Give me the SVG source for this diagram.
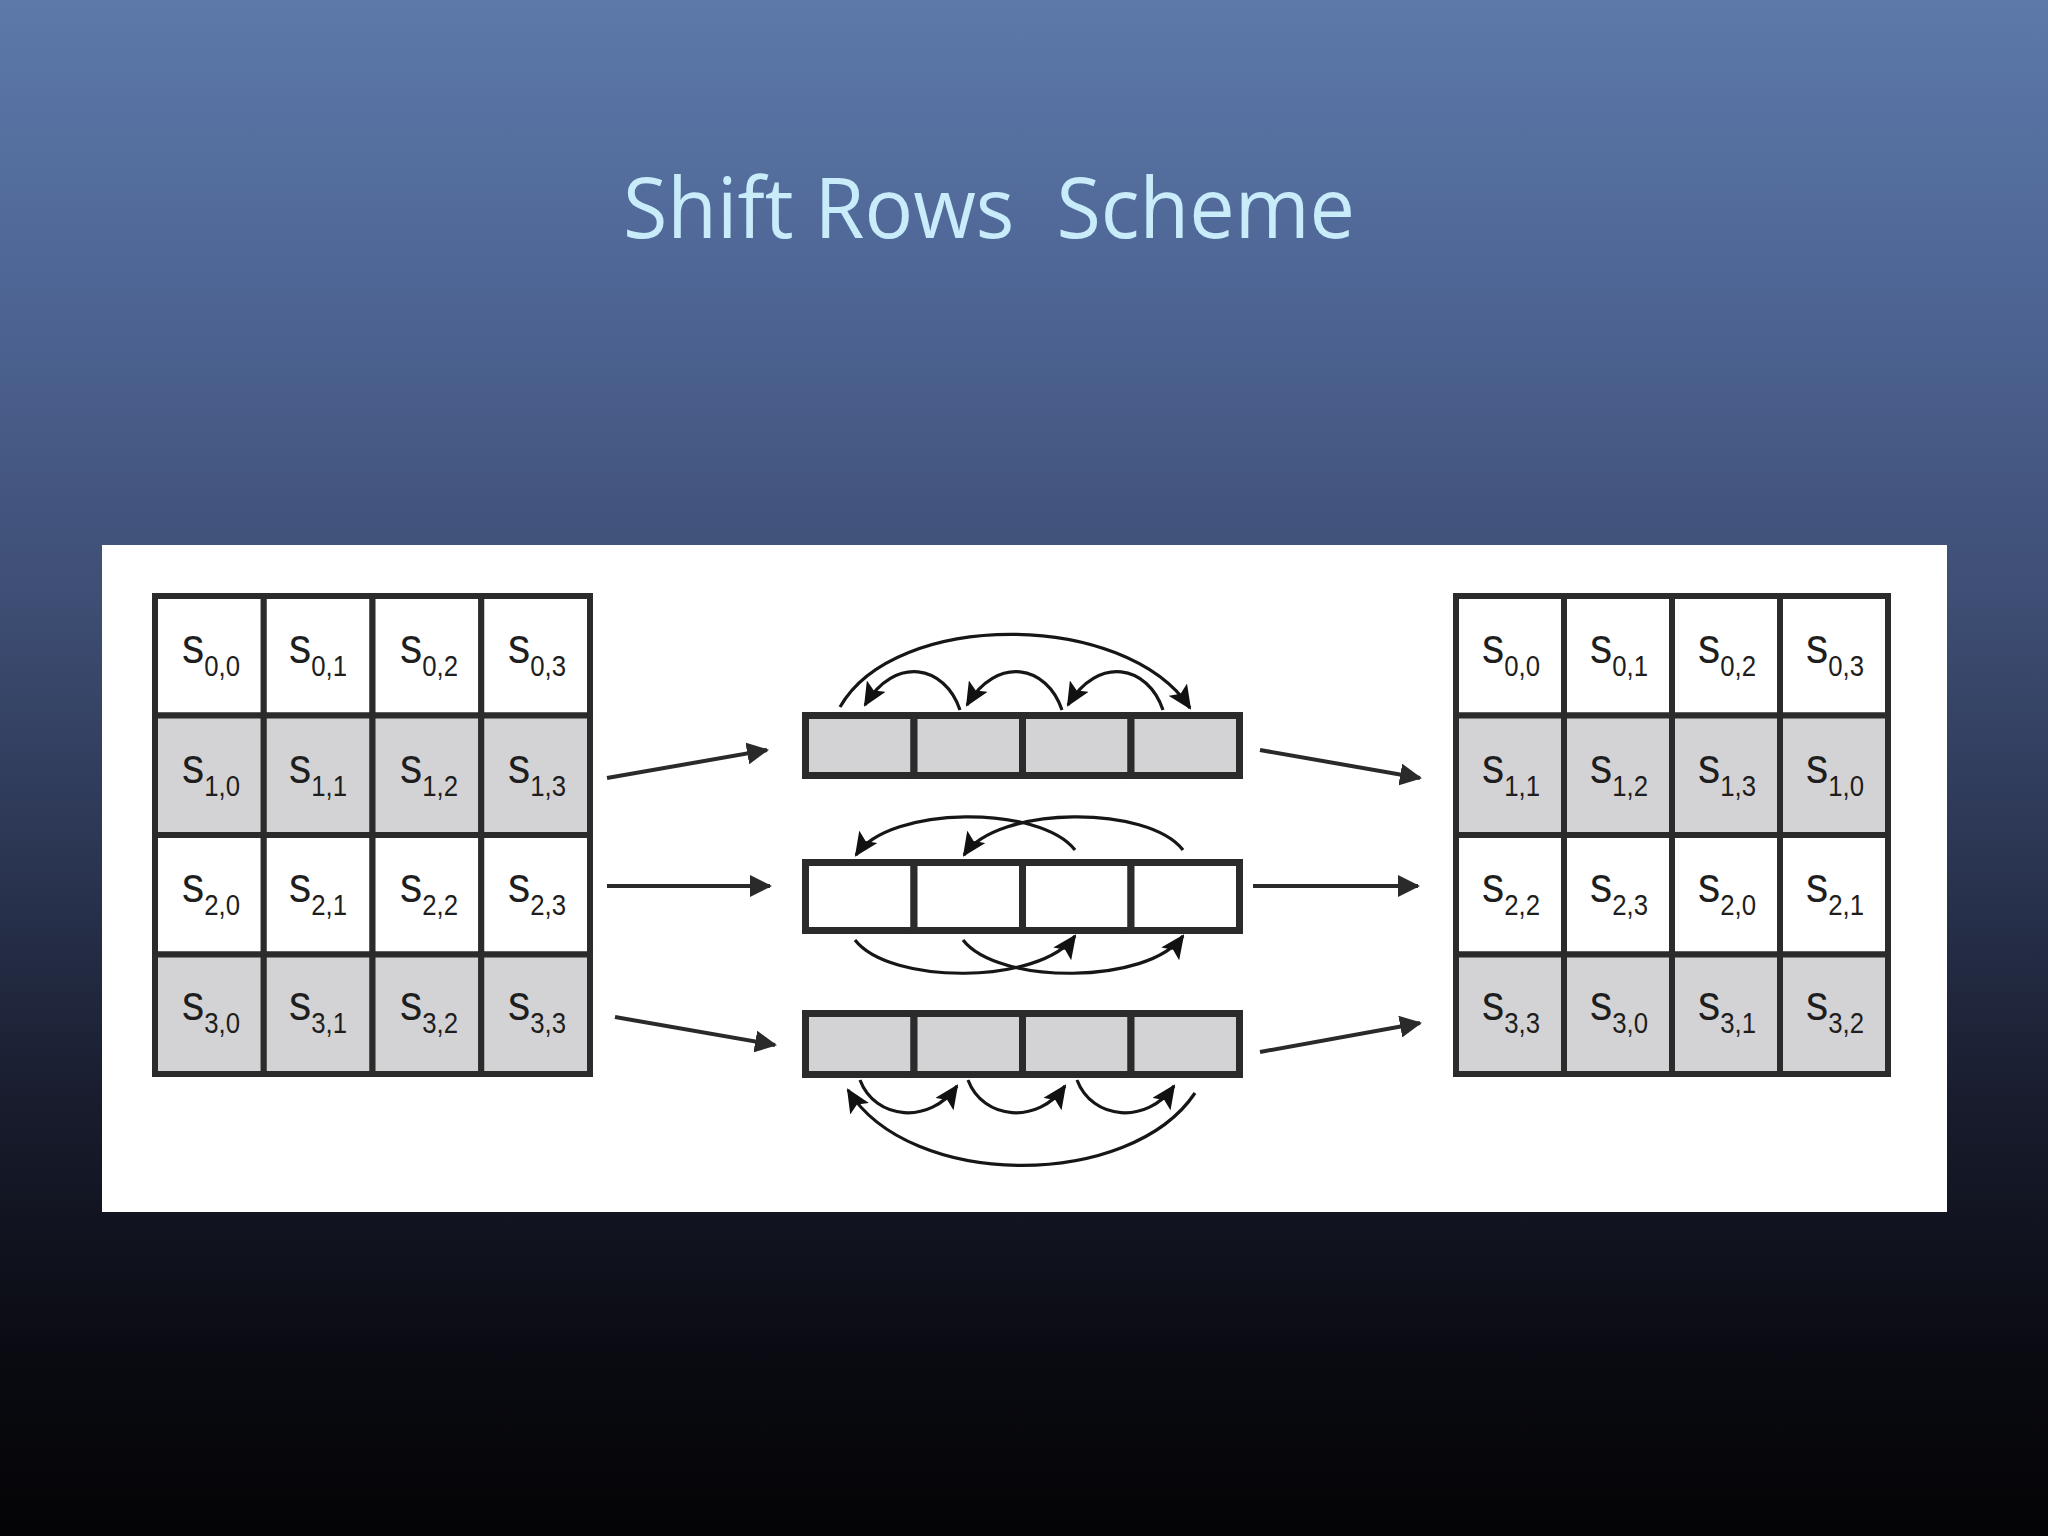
<svg xmlns="http://www.w3.org/2000/svg" width="2048" height="1536" viewBox="0 0 2048 1536">
  <defs>
    <linearGradient id="bg" x1="0" y1="0" x2="0" y2="1">
      <stop offset="0" stop-color="#5c79aa"/>
      <stop offset="0.2" stop-color="#4d6493"/>
      <stop offset="0.38" stop-color="#3f4f76"/>
      <stop offset="0.55" stop-color="#2c3754"/>
      <stop offset="0.72" stop-color="#181c2d"/>
      <stop offset="0.88" stop-color="#0a0b12"/>
      <stop offset="1" stop-color="#040406"/>
    </linearGradient>
    <marker id="headBig" markerUnits="userSpaceOnUse" markerWidth="22" markerHeight="22" refX="20" refY="11" orient="auto">
      <path d="M0,0 L22,11 L0,22 z" fill="#2a2a2a"/>
    </marker>
    <marker id="headSmall" markerUnits="userSpaceOnUse" markerWidth="24" markerHeight="22" refX="22" refY="11" orient="auto">
      <path d="M0,0 L24,11 L0,22 L5,11 z" fill="#111"/>
    </marker>
    <style>
      .cw { fill: #ffffff; stroke: #2b2b2b; stroke-width: 6; }
      .cg { fill: #d3d3d5; stroke: #2b2b2b; stroke-width: 6; }
      .bw { fill: #ffffff; stroke: #2b2b2b; stroke-width: 7; }
      .bg { fill: #d3d3d5; stroke: #2b2b2b; stroke-width: 7; }
      .lbl { font-family: "Liberation Sans", Arial, sans-serif; font-size: 50px; fill: #1e1e1e; }
      .sub { font-size: 29px; }
      .straight { fill: none; stroke: #2a2a2a; stroke-width: 4; marker-end: url(#headBig); }
      .curve { fill: none; stroke: #161616; stroke-width: 3.2; marker-end: url(#headSmall); }
    </style>
  </defs>

  <rect x="0" y="0" width="2048" height="1536" fill="url(#bg)"/>

  <text x="989" y="238" text-anchor="middle" font-family="'Open Sans', 'Liberation Sans', sans-serif" font-size="85" fill="#c9ecfb" textLength="732" lengthAdjust="spacingAndGlyphs" style="white-space:pre">Shift Rows  Scheme</text>

  <rect x="102" y="545" width="1845" height="667" fill="#ffffff"/>

  <!-- Left state grid -->
  <g id="left-grid">
    <rect class="cw" x="155" y="596" width="108.75" height="119.5"/>
    <rect class="cw" x="263.75" y="596" width="108.75" height="119.5"/>
    <rect class="cw" x="372.5" y="596" width="108.75" height="119.5"/>
    <rect class="cw" x="481.25" y="596" width="108.75" height="119.5"/>
    <rect class="cg" x="155" y="715.5" width="108.75" height="119.5"/>
    <rect class="cg" x="263.75" y="715.5" width="108.75" height="119.5"/>
    <rect class="cg" x="372.5" y="715.5" width="108.75" height="119.5"/>
    <rect class="cg" x="481.25" y="715.5" width="108.75" height="119.5"/>
    <rect class="cw" x="155" y="835" width="108.75" height="119.5"/>
    <rect class="cw" x="263.75" y="835" width="108.75" height="119.5"/>
    <rect class="cw" x="372.5" y="835" width="108.75" height="119.5"/>
    <rect class="cw" x="481.25" y="835" width="108.75" height="119.5"/>
    <rect class="cg" x="155" y="954.5" width="108.75" height="119.5"/>
    <rect class="cg" x="263.75" y="954.5" width="108.75" height="119.5"/>
    <rect class="cg" x="372.5" y="954.5" width="108.75" height="119.5"/>
    <rect class="cg" x="481.25" y="954.5" width="108.75" height="119.5"/>

    <text class="lbl" x="182" y="663" textLength="58" lengthAdjust="spacingAndGlyphs">s<tspan class="sub" dy="13">0,0</tspan></text>
    <text class="lbl" x="289" y="663" textLength="58" lengthAdjust="spacingAndGlyphs">s<tspan class="sub" dy="13">0,1</tspan></text>
    <text class="lbl" x="400" y="663" textLength="58" lengthAdjust="spacingAndGlyphs">s<tspan class="sub" dy="13">0,2</tspan></text>
    <text class="lbl" x="508" y="663" textLength="58" lengthAdjust="spacingAndGlyphs">s<tspan class="sub" dy="13">0,3</tspan></text>
    <text class="lbl" x="182" y="783" textLength="58" lengthAdjust="spacingAndGlyphs">s<tspan class="sub" dy="13">1,0</tspan></text>
    <text class="lbl" x="289" y="783" textLength="58" lengthAdjust="spacingAndGlyphs">s<tspan class="sub" dy="13">1,1</tspan></text>
    <text class="lbl" x="400" y="783" textLength="58" lengthAdjust="spacingAndGlyphs">s<tspan class="sub" dy="13">1,2</tspan></text>
    <text class="lbl" x="508" y="783" textLength="58" lengthAdjust="spacingAndGlyphs">s<tspan class="sub" dy="13">1,3</tspan></text>
    <text class="lbl" x="182" y="902" textLength="58" lengthAdjust="spacingAndGlyphs">s<tspan class="sub" dy="13">2,0</tspan></text>
    <text class="lbl" x="289" y="902" textLength="58" lengthAdjust="spacingAndGlyphs">s<tspan class="sub" dy="13">2,1</tspan></text>
    <text class="lbl" x="400" y="902" textLength="58" lengthAdjust="spacingAndGlyphs">s<tspan class="sub" dy="13">2,2</tspan></text>
    <text class="lbl" x="508" y="902" textLength="58" lengthAdjust="spacingAndGlyphs">s<tspan class="sub" dy="13">2,3</tspan></text>
    <text class="lbl" x="182" y="1020" textLength="58" lengthAdjust="spacingAndGlyphs">s<tspan class="sub" dy="13">3,0</tspan></text>
    <text class="lbl" x="289" y="1020" textLength="58" lengthAdjust="spacingAndGlyphs">s<tspan class="sub" dy="13">3,1</tspan></text>
    <text class="lbl" x="400" y="1020" textLength="58" lengthAdjust="spacingAndGlyphs">s<tspan class="sub" dy="13">3,2</tspan></text>
    <text class="lbl" x="508" y="1020" textLength="58" lengthAdjust="spacingAndGlyphs">s<tspan class="sub" dy="13">3,3</tspan></text>
  </g>

  <!-- Middle row bars -->
  <g id="bar-row1">
    <rect class="bg" x="805.5" y="715.5" width="108.5" height="60"/>
    <rect class="bg" x="914" y="715.5" width="108.5" height="60"/>
    <rect class="bg" x="1022.5" y="715.5" width="108.5" height="60"/>
    <rect class="bg" x="1131" y="715.5" width="108.5" height="60"/>
  </g>
  <g id="bar-row2">
    <rect class="bw" x="805.5" y="862.5" width="108.5" height="68"/>
    <rect class="bw" x="914" y="862.5" width="108.5" height="68"/>
    <rect class="bw" x="1022.5" y="862.5" width="108.5" height="68"/>
    <rect class="bw" x="1131" y="862.5" width="108.5" height="68"/>
  </g>
  <g id="bar-row3">
    <rect class="bg" x="805.5" y="1013.5" width="108.5" height="61"/>
    <rect class="bg" x="914" y="1013.5" width="108.5" height="61"/>
    <rect class="bg" x="1022.5" y="1013.5" width="108.5" height="61"/>
    <rect class="bg" x="1131" y="1013.5" width="108.5" height="61"/>
  </g>

  <!-- Right state grid -->
  <g id="right-grid">
    <rect class="cw" x="1456" y="596" width="108" height="119.5"/>
    <rect class="cw" x="1564" y="596" width="108" height="119.5"/>
    <rect class="cw" x="1672" y="596" width="108" height="119.5"/>
    <rect class="cw" x="1780" y="596" width="108" height="119.5"/>
    <rect class="cg" x="1456" y="715.5" width="108" height="119.5"/>
    <rect class="cg" x="1564" y="715.5" width="108" height="119.5"/>
    <rect class="cg" x="1672" y="715.5" width="108" height="119.5"/>
    <rect class="cg" x="1780" y="715.5" width="108" height="119.5"/>
    <rect class="cw" x="1456" y="835" width="108" height="119.5"/>
    <rect class="cw" x="1564" y="835" width="108" height="119.5"/>
    <rect class="cw" x="1672" y="835" width="108" height="119.5"/>
    <rect class="cw" x="1780" y="835" width="108" height="119.5"/>
    <rect class="cg" x="1456" y="954.5" width="108" height="119.5"/>
    <rect class="cg" x="1564" y="954.5" width="108" height="119.5"/>
    <rect class="cg" x="1672" y="954.5" width="108" height="119.5"/>
    <rect class="cg" x="1780" y="954.5" width="108" height="119.5"/>

    <text class="lbl" x="1482" y="663" textLength="58" lengthAdjust="spacingAndGlyphs">s<tspan class="sub" dy="13">0,0</tspan></text>
    <text class="lbl" x="1590" y="663" textLength="58" lengthAdjust="spacingAndGlyphs">s<tspan class="sub" dy="13">0,1</tspan></text>
    <text class="lbl" x="1698" y="663" textLength="58" lengthAdjust="spacingAndGlyphs">s<tspan class="sub" dy="13">0,2</tspan></text>
    <text class="lbl" x="1806" y="663" textLength="58" lengthAdjust="spacingAndGlyphs">s<tspan class="sub" dy="13">0,3</tspan></text>
    <text class="lbl" x="1482" y="783" textLength="58" lengthAdjust="spacingAndGlyphs">s<tspan class="sub" dy="13">1,1</tspan></text>
    <text class="lbl" x="1590" y="783" textLength="58" lengthAdjust="spacingAndGlyphs">s<tspan class="sub" dy="13">1,2</tspan></text>
    <text class="lbl" x="1698" y="783" textLength="58" lengthAdjust="spacingAndGlyphs">s<tspan class="sub" dy="13">1,3</tspan></text>
    <text class="lbl" x="1806" y="783" textLength="58" lengthAdjust="spacingAndGlyphs">s<tspan class="sub" dy="13">1,0</tspan></text>
    <text class="lbl" x="1482" y="902" textLength="58" lengthAdjust="spacingAndGlyphs">s<tspan class="sub" dy="13">2,2</tspan></text>
    <text class="lbl" x="1590" y="902" textLength="58" lengthAdjust="spacingAndGlyphs">s<tspan class="sub" dy="13">2,3</tspan></text>
    <text class="lbl" x="1698" y="902" textLength="58" lengthAdjust="spacingAndGlyphs">s<tspan class="sub" dy="13">2,0</tspan></text>
    <text class="lbl" x="1806" y="902" textLength="58" lengthAdjust="spacingAndGlyphs">s<tspan class="sub" dy="13">2,1</tspan></text>
    <text class="lbl" x="1482" y="1020" textLength="58" lengthAdjust="spacingAndGlyphs">s<tspan class="sub" dy="13">3,3</tspan></text>
    <text class="lbl" x="1590" y="1020" textLength="58" lengthAdjust="spacingAndGlyphs">s<tspan class="sub" dy="13">3,0</tspan></text>
    <text class="lbl" x="1698" y="1020" textLength="58" lengthAdjust="spacingAndGlyphs">s<tspan class="sub" dy="13">3,1</tspan></text>
    <text class="lbl" x="1806" y="1020" textLength="58" lengthAdjust="spacingAndGlyphs">s<tspan class="sub" dy="13">3,2</tspan></text>
  </g>

  <!-- Connectors -->
  <g id="connectors">
    <path class="straight" d="M607,778 L767,750"/>
    <path class="straight" d="M607,886 L770,886"/>
    <path class="straight" d="M615,1017 L775,1045"/>
    <path class="straight" d="M1260,750 L1420,778"/>
    <path class="straight" d="M1253,886 L1418,886"/>
    <path class="straight" d="M1260,1052 L1420,1023"/>

    <!-- row 1: shift left by 1 -->
    <path class="curve" d="M840,707 C895,610 1125,610 1190,708"/>
    <path class="curve" d="M960,710 C945,665 895,655 865,705"/>
    <path class="curve" d="M1062,710 C1047,665 997,655 967,705"/>
    <path class="curve" d="M1163,710 C1148,665 1098,655 1068,705"/>

    <!-- row 2: shift left by 2 -->
    <path class="curve" d="M1075,850 C1040,805 890,805 856,855"/>
    <path class="curve" d="M1183,850 C1148,805 998,805 964,855"/>
    <path class="curve" d="M855,940 C890,985 1040,985 1075,936"/>
    <path class="curve" d="M963,940 C998,985 1148,985 1183,936"/>

    <!-- row 3: shift left by 3 -->
    <path class="curve" d="M860,1080 C875,1120 930,1125 957,1086"/>
    <path class="curve" d="M968,1080 C983,1120 1038,1125 1065,1086"/>
    <path class="curve" d="M1077,1080 C1092,1120 1147,1125 1174,1086"/>
    <path class="curve" d="M1195,1093 C1130,1190 910,1190 848,1090"/>
  </g>
</svg>
